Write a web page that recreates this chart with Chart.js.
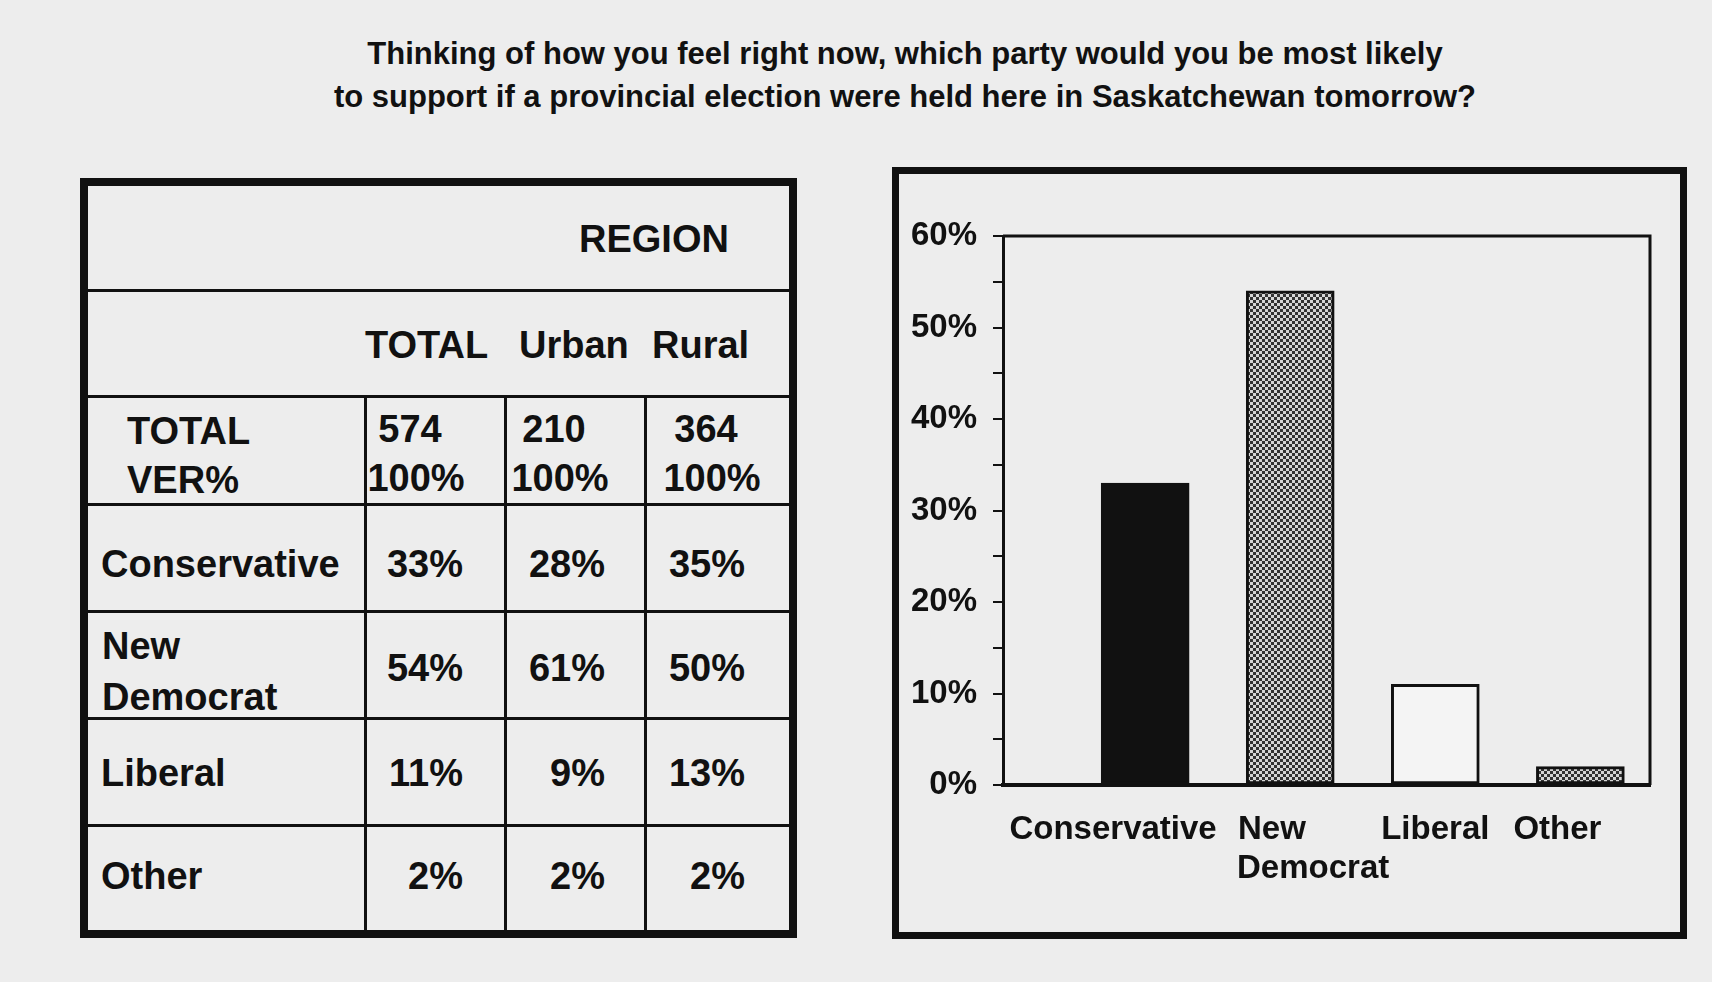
<!DOCTYPE html>
<html>
<head>
<meta charset="utf-8">
<script src="https://cdn.jsdelivr.net/npm/chart.js@4.4.1/dist/chart.umd.min.js"></script>
<style>
  body { margin: 0; background: #ededed; font-family: "Liberation Sans", Arial, sans-serif; color: #111; }
  #page { position: relative; width: 1712px; height: 982px; overflow: hidden; }
  .title { position: absolute; left: 0; width: 1810px; text-align: center; font-weight: bold; font-size: 31px; white-space: nowrap; }
  #table { position: absolute; left: 80px; top: 178px; width: 717px; height: 760px; border: 8px solid #111; box-sizing: border-box; }
  .hl { position: absolute; left: 0; right: 0; height: 3px; background: #111; }
  .vl { position: absolute; width: 3px; background: #111; }
  .t { position: absolute; font-weight: bold; font-size: 38px; line-height: 50px; white-space: nowrap; }
  #panel { position: absolute; left: 892px; top: 167px; width: 795px; height: 772px; border: 7px solid #111; box-sizing: border-box; }
  #wrap { position: absolute; left: 0; top: 0; width: 781px; height: 758px; }
</style>
</head>
<body>
<div id="page">
  <div class="title" style="top:36px">Thinking of how you feel right now, which party would you be most likely</div>
  <div class="title" style="top:79px">to support if a provincial election were held here in Saskatchewan tomorrow?</div>
  <div id="table"></div>
  <div id="panel"><div id="wrap"><canvas id="chart"></canvas></div></div>
</div>
<script>
// data
var parties = ['Conservative', 'New Democrat', 'Liberal', 'Other'];
var regionCols = ['TOTAL', 'Urban', 'Rural'];
var sampleN = [574, 210, 364];
var totalPct = [33, 54, 11, 2];
var urbanPct = [28, 61, 9, 2];
var ruralPct = [35, 50, 13, 2];
var yTicks = [0, 10, 20, 30, 40, 50, 60];

// ---- table ----
var tbl = document.getElementById('table');
function put(txt, x, y, align) {
  var d = document.createElement('div');
  d.className = 't';
  d.textContent = txt;
  // x,y relative to page; table inner origin is (88,186)
  d.style.top = (y - 186 - 25) + 'px';
  if (align == 'right') d.style.right = (789 - x) + 'px';
  else if (align == 'center') { d.style.left = (x - 88 - 150) + 'px'; d.style.width = '300px'; d.style.textAlign = 'center'; }
  else d.style.left = (x - 88) + 'px';
  tbl.appendChild(d);
}
function line(cls, style) {
  var d = document.createElement('div');
  d.className = cls;
  d.style.cssText = style;
  tbl.appendChild(d);
}
var rowLines = [290, 396, 504, 611, 718, 825];
rowLines.forEach(function(y){ line('hl', 'top:' + (y - 187) + 'px'); });
[365, 505, 645].forEach(function(x){ line('vl', 'left:' + (x - 89) + 'px;top:' + (396 - 187) + 'px;bottom:0'); });

put('REGION', 579, 239, 'left');
var headX = [365, 519, 652];
regionCols.forEach(function(c, i){ put(c, headX[i], 345, 'left'); });

put('TOTAL', 127, 431, 'left');
put('VER%', 127, 480, 'left');
var nCenter = [416, 560, 712];
sampleN.forEach(function(n, i){
  put(String(n), nCenter[i] - 6, 429, 'center');
  put('100%', nCenter[i], 478, 'center');
});

var rowY = [564, 668, 773, 876];
var colRight = [463, 605, 745];
parties.forEach(function(p, r){
  if (p == 'New Democrat') { put('New', 102, 646, 'left'); put('Democrat', 102, 697, 'left'); }
  else put(p, 101, rowY[r], 'left');
  [totalPct, urbanPct, ruralPct].forEach(function(arr, c){
    put(arr[r] + '%', colRight[c], rowY[r], 'right');
  });
});

// ---- chart ----
function halftone() {
  var c = document.createElement('canvas');
  c.width = 6; c.height = 6;
  var g = c.getContext('2d');
  g.fillStyle = '#d6d6d6'; g.fillRect(0, 0, 6, 6);
  g.fillStyle = '#333'; g.fillRect(0, 0, 3, 3); g.fillRect(3, 3, 3, 3);
  return g.createPattern(c, 'repeat');
}
var dots = halftone();

var frame = {
  id: 'frame',
  afterDatasetsDraw: function(chart) {
    var a = chart.chartArea, ctx = chart.ctx;
    ctx.save();
    ctx.strokeStyle = '#111';
    ctx.lineWidth = 3;
    ctx.beginPath();
    ctx.moveTo(a.left, a.top); ctx.lineTo(a.right, a.top); ctx.lineTo(a.right, a.bottom);
    ctx.stroke();
    ctx.restore();
  }
};

// the hand-drawn labels sit a little off their bars; nudge them with spaces
function xLabel(i) {
  var p = parties[i];
  if (p == 'Conservative') return p + '       ';
  if (p == 'New Democrat') return ['New    ', '     Democrat'];
  if (p == 'Other') return p + '     ';
  return p;
}

var tickFont = { family: '"Liberation Sans", Arial, sans-serif', size: 33, weight: 'bold' };

new Chart(document.getElementById('chart'), {
  type: 'bar',
  data: {
    datasets: [{
      data: totalPct.map(function(v, i){ return { x: i, y: v }; }),
      backgroundColor: ['#111', dots, '#f4f4f4', dots],
      borderColor: '#111',
      borderWidth: 3,
      borderSkipped: false,
      barThickness: 88
    }]
  },
  options: {
    animation: false,
    responsive: true,
    maintainAspectRatio: false,
    layout: { padding: { left: 0, top: 62, right: 30, bottom: 0 } },
    plugins: { legend: { display: false }, tooltip: { enabled: false } },
    scales: {
      x: {
        type: 'linear', position: 'bottom', min: -0.98, max: 3.48, offset: false,
        grid: { display: false, drawTicks: false, offset: false },
        border: { display: true, color: '#111', width: 4 },
        ticks: {
          stepSize: 1, autoSkip: false, includeBounds: false, maxRotation: 0,
          padding: 25, color: '#111', font: tickFont,
          callback: function(v){
            if (v < 0 || v > 3 || v % 1) return '';
            return xLabel(v);
          }
        },
        afterFit: function(s){ s.height = 147; }
      },
      y: {
        min: 0, max: 60,
        ticks: {
          stepSize: 5, autoSkip: false, padding: 16, color: '#111', font: tickFont,
          callback: function(v){ return yTicks.indexOf(v) >= 0 ? v + '%' : ''; }
        },
        grid: { drawOnChartArea: false, drawTicks: true, tickLength: 10, color: '#111', lineWidth: 2 },
        border: { display: true, color: '#111', width: 3 },
        afterFit: function(s){ s.width = 104; }
      }
    }
  },
  plugins: [frame]
});
</script>
</body>
</html>
